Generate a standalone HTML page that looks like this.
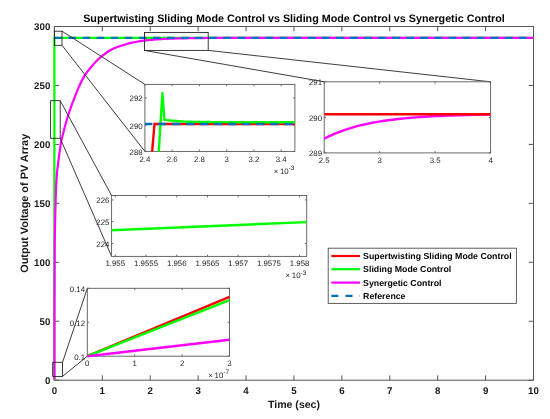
<!DOCTYPE html>
<html lang="en"><head><meta charset="utf-8"><title>Supertwisting Sliding Mode Control vs Sliding Mode Control vs Synergetic Control</title>
<style>html,body{margin:0;padding:0;background:#fff;}svg{display:block;text-rendering:geometricPrecision;}</style></head>
<body>
<svg width="550" height="419" viewBox="0 0 550 419" font-family="'Liberation Sans', Arial, Helvetica, sans-serif">
<rect x="0" y="0" width="550" height="419" fill="#ffffff"/>
<rect x="54.4" y="26.5" width="479.10" height="353.70" fill="none" stroke="#555555" stroke-width="1.0"/>
<path d="M54.40,380.2 v-4.8 M54.40,26.5 v4.8 M102.31,380.2 v-4.8 M102.31,26.5 v4.8 M150.22,380.2 v-4.8 M150.22,26.5 v4.8 M198.13,380.2 v-4.8 M198.13,26.5 v4.8 M246.04,380.2 v-4.8 M246.04,26.5 v4.8 M293.95,380.2 v-4.8 M293.95,26.5 v4.8 M341.86,380.2 v-4.8 M341.86,26.5 v4.8 M389.77,380.2 v-4.8 M389.77,26.5 v4.8 M437.68,380.2 v-4.8 M437.68,26.5 v4.8 M485.59,380.2 v-4.8 M485.59,26.5 v4.8 M533.50,380.2 v-4.8 M533.50,26.5 v4.8 M54.4,380.20 h4.8 M533.5,380.20 h-4.8 M54.4,321.25 h4.8 M533.5,321.25 h-4.8 M54.4,262.30 h4.8 M533.5,262.30 h-4.8 M54.4,203.35 h4.8 M533.5,203.35 h-4.8 M54.4,144.40 h4.8 M533.5,144.40 h-4.8 M54.4,85.45 h4.8 M533.5,85.45 h-4.8 M54.4,26.50 h4.8 M533.5,26.50 h-4.8 " fill="none" stroke="#555555" stroke-width="1.0"/>
<path d="M54.40,380.20 L54.40,37.85 L533.50,37.85" fill="none" stroke="#00ff00" stroke-width="2.2" stroke-linejoin="miter"/>
<path d="M54.40,379.80 C54.41,366.50 54.40,322.63 54.45,300.00 C54.50,277.37 54.51,260.43 54.70,244.00 C54.89,227.57 55.22,213.25 55.60,201.40 C55.98,189.55 56.15,182.42 57.00,172.90 C57.85,163.38 59.92,149.90 60.70,144.30 C61.48,138.70 60.50,144.02 61.70,139.30 C62.90,134.58 65.25,124.23 67.90,116.00 C70.55,107.77 74.77,96.72 77.60,89.90 C80.43,83.08 82.23,79.38 84.90,75.10 C87.57,70.82 90.93,67.23 93.60,64.20 C96.27,61.17 97.75,59.45 100.90,56.90 C104.05,54.35 107.65,51.20 112.50,48.90 C117.35,46.60 126.42,44.21 130.00,43.10 C133.58,41.99 132.67,42.50 134.00,42.24 C135.33,41.97 136.67,41.74 138.00,41.52 C139.33,41.30 140.67,41.10 142.00,40.91 C143.33,40.73 144.67,40.56 146.00,40.41 C147.33,40.26 148.67,40.12 150.00,39.99 C151.33,39.86 152.67,39.75 154.00,39.64 C155.33,39.53 156.67,39.43 158.00,39.34 C159.33,39.25 160.67,39.17 162.00,39.10 C163.33,39.02 164.67,38.96 166.00,38.89 C167.33,38.83 168.67,38.77 170.00,38.72 C171.33,38.67 172.67,38.62 174.00,38.58 C175.33,38.53 176.67,38.50 178.00,38.46 C179.33,38.42 180.67,38.39 182.00,38.36 C183.33,38.33 184.67,38.30 186.00,38.28 C187.33,38.25 188.67,38.23 190.00,38.21 C191.33,38.18 192.67,38.16 194.00,38.15 C195.33,38.13 196.67,38.11 198.00,38.10 C199.33,38.08 200.67,38.07 202.00,38.06 C203.33,38.04 204.67,38.03 206.00,38.02 C207.33,38.01 208.67,38.00 210.00,37.99 C211.33,37.99 212.67,37.98 214.00,37.97 C215.33,37.96 216.67,37.96 218.00,37.95 C219.33,37.95 220.67,37.94 222.00,37.93 C223.33,37.93 224.67,37.92 226.00,37.92 C227.33,37.92 228.67,37.91 230.00,37.91 C231.33,37.91 232.67,37.90 234.00,37.90 C235.33,37.90 236.67,37.89 238.00,37.89 C239.33,37.89 240.67,37.89 242.00,37.88 C243.33,37.88 244.67,37.88 246.00,37.88 C247.33,37.88 248.67,37.88 250.00,37.87 C251.33,37.87 252.67,37.87 254.00,37.87 C255.33,37.87 256.67,37.87 258.00,37.87 C259.33,37.87 260.67,37.86 262.00,37.86 C263.33,37.86 264.67,37.86 266.00,37.86 C267.33,37.86 268.67,37.86 270.00,37.86 C271.33,37.86 272.67,37.86 274.00,37.86 C275.33,37.86 276.67,37.86 278.00,37.86 C279.33,37.86 280.67,37.86 282.00,37.86 C283.33,37.86 284.67,37.86 286.00,37.85 C287.33,37.85 288.67,37.85 290.00,37.85 C291.33,37.85 292.67,37.85 294.00,37.85 C295.33,37.85 296.67,37.85 298.00,37.85 C299.33,37.85 300.67,37.85 302.00,37.85 C303.33,37.85 304.67,37.85 306.00,37.85 C307.33,37.85 308.67,37.85 310.00,37.85 C311.33,37.85 312.67,37.85 314.00,37.85 C315.33,37.85 316.67,37.85 318.00,37.85 C319.33,37.85 320.67,37.85 322.00,37.85 C323.33,37.85 324.67,37.85 326.00,37.85 C327.33,37.85 328.67,37.85 330.00,37.85 C331.33,37.85 332.67,37.85 334.00,37.85 C335.33,37.85 336.67,37.85 338.00,37.85 C339.33,37.85 340.67,37.85 342.00,37.85 C343.33,37.85 344.67,37.85 346.00,37.85 C347.33,37.85 348.67,37.85 350.00,37.85 C351.33,37.85 352.67,37.85 354.00,37.85 C355.33,37.85 356.67,37.85 358.00,37.85 C359.33,37.85 360.67,37.85 362.00,37.85 C363.33,37.85 364.67,37.85 366.00,37.85 C367.33,37.85 368.67,37.85 370.00,37.85 C371.33,37.85 372.67,37.85 374.00,37.85 C375.33,37.85 376.67,37.85 378.00,37.85 C379.33,37.85 380.67,37.85 382.00,37.85 C383.33,37.85 384.67,37.85 386.00,37.85 C387.33,37.85 388.67,37.85 390.00,37.85 C391.33,37.85 392.67,37.85 394.00,37.85 C395.33,37.85 396.67,37.85 398.00,37.85 C399.33,37.85 400.67,37.85 402.00,37.85 C403.33,37.85 404.67,37.85 406.00,37.85 C407.33,37.85 408.67,37.85 410.00,37.85 C411.33,37.85 412.67,37.85 414.00,37.85 C415.33,37.85 416.67,37.85 418.00,37.85 C419.33,37.85 420.67,37.85 422.00,37.85 C423.33,37.85 424.67,37.85 426.00,37.85 C427.33,37.85 428.67,37.85 430.00,37.85 C431.33,37.85 432.67,37.85 434.00,37.85 C435.33,37.85 436.67,37.85 438.00,37.85 C439.33,37.85 440.67,37.85 442.00,37.85 C443.33,37.85 444.67,37.85 446.00,37.85 C447.33,37.85 448.67,37.85 450.00,37.85 C451.33,37.85 452.67,37.85 454.00,37.85 C455.33,37.85 456.67,37.85 458.00,37.85 C459.33,37.85 460.67,37.85 462.00,37.85 C463.33,37.85 464.67,37.85 466.00,37.85 C467.33,37.85 468.67,37.85 470.00,37.85 C471.33,37.85 472.67,37.85 474.00,37.85 C475.33,37.85 476.67,37.85 478.00,37.85 C479.33,37.85 480.67,37.85 482.00,37.85 C483.33,37.85 484.67,37.85 486.00,37.85 C487.33,37.85 488.67,37.85 490.00,37.85 C491.33,37.85 492.67,37.85 494.00,37.85 C495.33,37.85 496.67,37.85 498.00,37.85 C499.33,37.85 500.67,37.85 502.00,37.85 C503.33,37.85 504.67,37.85 506.00,37.85 C507.33,37.85 508.67,37.85 510.00,37.85 C511.33,37.85 512.67,37.85 514.00,37.85 C515.33,37.85 516.67,37.85 518.00,37.85 C519.33,37.85 520.67,37.85 522.00,37.85 C523.33,37.85 524.67,37.85 526.00,37.85 C527.33,37.85 528.75,37.85 530.00,37.85 C531.25,37.85 532.92,37.85 533.50,37.85" fill="none" stroke="#ff00ff" stroke-width="2.2" stroke-linejoin="round"/>
<path d="M54.40,37.85 L533.50,37.85" fill="none" stroke="#0072bd" stroke-width="2.2" stroke-dasharray="7.6 6.48"/>
<g font-size="9.72" font-weight="bold" fill="#1a1a1a">
<text x="54.40" y="394.2" text-anchor="middle">0</text>
<text x="102.31" y="394.2" text-anchor="middle">1</text>
<text x="150.22" y="394.2" text-anchor="middle">2</text>
<text x="198.13" y="394.2" text-anchor="middle">3</text>
<text x="246.04" y="394.2" text-anchor="middle">4</text>
<text x="293.95" y="394.2" text-anchor="middle">5</text>
<text x="341.86" y="394.2" text-anchor="middle">6</text>
<text x="389.77" y="394.2" text-anchor="middle">7</text>
<text x="437.68" y="394.2" text-anchor="middle">8</text>
<text x="485.59" y="394.2" text-anchor="middle">9</text>
<text x="533.50" y="394.2" text-anchor="middle">10</text>
<text x="50.3" y="383.50" text-anchor="end">0</text>
<text x="50.3" y="324.55" text-anchor="end">50</text>
<text x="50.3" y="265.60" text-anchor="end">100</text>
<text x="50.3" y="206.65" text-anchor="end">150</text>
<text x="50.3" y="147.70" text-anchor="end">200</text>
<text x="50.3" y="88.75" text-anchor="end">250</text>
<text x="50.3" y="29.80" text-anchor="end">300</text>
</g>
<text x="294.0" y="21.5" font-size="10.72" font-weight="bold" fill="#000" text-anchor="middle" textLength="421.6" lengthAdjust="spacingAndGlyphs">Supertwisting Sliding Mode Control vs Sliding Mode Control vs Synergetic Control</text>
<text x="294" y="408.4" font-size="10.6" font-weight="bold" fill="#1a1a1a" text-anchor="middle" textLength="52" lengthAdjust="spacingAndGlyphs">Time (sec)</text>
<text transform="translate(28.3,203.3) rotate(-90)" font-size="10.75" font-weight="bold" fill="#1a1a1a" text-anchor="middle" textLength="139" lengthAdjust="spacingAndGlyphs">Output Voltage of PV Array</text>
<rect x="54.4" y="31.2" width="7.60" height="14.10" fill="none" stroke="#1a1a1a" stroke-width="0.85"/>
<path d="M62.0,31.2 L144.9,84.4" fill="none" stroke="#1a1a1a" stroke-width="0.85"/>
<path d="M62.0,45.3 L144.9,151.4" fill="none" stroke="#1a1a1a" stroke-width="0.85"/>
<rect x="144.5" y="32.4" width="63.70" height="18.00" fill="none" stroke="#1a1a1a" stroke-width="0.85"/>
<path d="M144.5,50.4 L324.2,81.8" fill="none" stroke="#1a1a1a" stroke-width="0.85"/>
<path d="M208.2,50.4 L490.6,81.8" fill="none" stroke="#1a1a1a" stroke-width="0.85"/>
<rect x="50.6" y="100.7" width="9.60" height="37.60" fill="none" stroke="#1a1a1a" stroke-width="0.85"/>
<path d="M60.2,100.7 L111.6,195.5" fill="none" stroke="#1a1a1a" stroke-width="0.85"/>
<path d="M60.2,138.3 L111.6,256.4" fill="none" stroke="#1a1a1a" stroke-width="0.85"/>
<rect x="52.7" y="362.3" width="9.80" height="14.10" fill="none" stroke="#1a1a1a" stroke-width="0.85"/>
<path d="M62.5,362.3 L87.3,288.3" fill="none" stroke="#1a1a1a" stroke-width="0.85"/>
<path d="M62.5,376.4 L87.3,356.2" fill="none" stroke="#1a1a1a" stroke-width="0.85"/>
<rect x="144.9" y="84.4" width="150.00" height="67.00" fill="#ffffff" stroke="none"/>
<rect x="144.9" y="84.4" width="150.00" height="67.00" fill="none" stroke="#5a5a5a" stroke-width="0.9"/>
<path d="M144.90,151.4 v-1.8 M144.90,84.4 v1.8 M172.15,151.4 v-1.8 M172.15,84.4 v1.8 M199.40,151.4 v-1.8 M199.40,84.4 v1.8 M226.65,151.4 v-1.8 M226.65,84.4 v1.8 M253.90,151.4 v-1.8 M253.90,84.4 v1.8 M281.15,151.4 v-1.8 M281.15,84.4 v1.8 M144.9,151.50 h1.8 M294.9,151.50 h-1.8 M144.9,125.10 h1.8 M294.9,125.10 h-1.8 M144.9,97.90 h1.8 M294.9,97.90 h-1.8 " fill="none" stroke="#5a5a5a" stroke-width="0.9"/>
<g font-size="7.85" fill="#262626">
<text x="144.90" y="162.10" text-anchor="middle">2.4</text>
<text x="172.15" y="162.10" text-anchor="middle">2.6</text>
<text x="199.40" y="162.10" text-anchor="middle">2.8</text>
<text x="226.65" y="162.10" text-anchor="middle">3</text>
<text x="253.90" y="162.10" text-anchor="middle">3.2</text>
<text x="281.15" y="162.10" text-anchor="middle">3.4</text>
<text x="142.70" y="155.00" text-anchor="end">288</text>
<text x="142.70" y="128.60" text-anchor="end">290</text>
<text x="142.70" y="101.40" text-anchor="end">292</text>
<text x="294.40" y="173.80" text-anchor="end">×<tspan dx="1.7">10</tspan><tspan dy="-3.4" font-size="6.4">-3</tspan></text>
</g>
<clipPath id="c1"><rect x="144.9" y="84.4" width="150.00" height="67.00"/></clipPath>
<g clip-path="url(#c1)">
<path d="M151.9,154.4 L154.5,123.95 L294.9,123.95" fill="none" stroke="#ff0000" stroke-width="2.4" stroke-linejoin="miter"/>
<path d="M158.6,154.4 L162.4,93.0 L164.4,119.7 L167.20,120.13 L170.20,120.50 L173.20,120.81 L176.20,121.06 L179.20,121.27 L182.20,121.44 L185.20,121.58 L188.20,121.69 L191.20,121.78 L194.20,121.86 L197.20,121.92 L200.20,121.97 L203.20,122.01 L206.20,122.05 L209.20,122.07 L212.20,122.10 L215.20,122.12 L218.20,122.13 L221.20,122.14 L224.20,122.15 L227.20,122.16 L230.20,122.17 L233.20,122.17 L236.20,122.18 L239.20,122.18 L242.20,122.19 L245.20,122.19 L248.20,122.19 L251.20,122.19 L254.20,122.19 L257.20,122.19 L260.20,122.20 L263.20,122.20 L266.20,122.20 L269.20,122.20 L272.20,122.20 L275.20,122.20 L278.20,122.20 L281.20,122.20 L284.20,122.20 L287.20,122.20 L290.20,122.20 L293.20,122.20 L294.90,122.20" fill="none" stroke="#00ff00" stroke-width="2.4" stroke-linejoin="round"/>
<path d="M144.9,123.95 L294.9,123.95" fill="none" stroke="#0072bd" stroke-width="2.4" stroke-dasharray="8.2 5.8" stroke-dashoffset="0.7"/>
</g>
<rect x="324.2" y="81.8" width="166.40" height="71.10" fill="#ffffff" stroke="none"/>
<rect x="324.2" y="81.8" width="166.40" height="71.10" fill="none" stroke="#5a5a5a" stroke-width="0.9"/>
<path d="M324.20,152.9 v-1.8 M324.20,81.8 v1.8 M379.67,152.9 v-1.8 M379.67,81.8 v1.8 M435.13,152.9 v-1.8 M435.13,81.8 v1.8 M490.60,152.9 v-1.8 M490.60,81.8 v1.8 M324.2,152.90 h1.8 M490.6,152.90 h-1.8 M324.2,117.40 h1.8 M490.6,117.40 h-1.8 M324.2,81.80 h1.8 M490.6,81.80 h-1.8 " fill="none" stroke="#5a5a5a" stroke-width="0.9"/>
<g font-size="7.85" fill="#262626">
<text x="324.20" y="163.30" text-anchor="middle">2.5</text>
<text x="379.67" y="163.30" text-anchor="middle">3</text>
<text x="435.13" y="163.30" text-anchor="middle">3.5</text>
<text x="490.60" y="163.30" text-anchor="middle">4</text>
<text x="322.00" y="156.40" text-anchor="end">289</text>
<text x="322.00" y="120.90" text-anchor="end">290</text>
<text x="322.00" y="85.30" text-anchor="end">291</text>
</g>
<clipPath id="c2"><rect x="324.2" y="81.8" width="166.40" height="71.10"/></clipPath>
<g clip-path="url(#c2)">
<path d="M324.20,138.70 L328.20,136.68 L332.20,134.82 L336.20,133.11 L340.20,131.54 L344.20,130.10 L348.20,128.77 L352.20,127.55 L356.20,126.43 L360.20,125.41 L364.20,124.46 L368.20,123.60 L372.20,122.80 L376.20,122.07 L380.20,121.40 L384.20,120.78 L388.20,120.21 L392.20,119.69 L396.20,119.21 L400.20,118.77 L404.20,118.37 L408.20,118.00 L412.20,117.65 L416.20,117.34 L420.20,117.05 L424.20,116.79 L428.20,116.55 L432.20,116.32 L436.20,116.12 L440.20,115.93 L444.20,115.76 L448.20,115.60 L452.20,115.45 L456.20,115.32 L460.20,115.19 L464.20,115.08 L468.20,114.98 L472.20,114.88 L476.20,114.79 L480.20,114.71 L484.20,114.64 L488.20,114.57 L490.60,114.53" fill="none" stroke="#ff00ff" stroke-width="2.4"/>
<path d="M324.2,114.2 L490.6,114.2" fill="none" stroke="#ff0000" stroke-width="2.4"/>
</g>
<rect x="111.6" y="195.5" width="195.10" height="60.90" fill="#ffffff" stroke="none"/>
<rect x="111.6" y="195.5" width="195.10" height="60.90" fill="none" stroke="#5a5a5a" stroke-width="0.9"/>
<path d="M115.30,256.4 v-1.8 M115.30,195.5 v1.8 M146.02,256.4 v-1.8 M146.02,195.5 v1.8 M176.74,256.4 v-1.8 M176.74,195.5 v1.8 M207.46,256.4 v-1.8 M207.46,195.5 v1.8 M238.18,256.4 v-1.8 M238.18,195.5 v1.8 M268.90,256.4 v-1.8 M268.90,195.5 v1.8 M299.62,256.4 v-1.8 M299.62,195.5 v1.8 M111.6,243.50 h1.8 M306.7,243.50 h-1.8 M111.6,221.70 h1.8 M306.7,221.70 h-1.8 M111.6,199.90 h1.8 M306.7,199.90 h-1.8 " fill="none" stroke="#5a5a5a" stroke-width="0.9"/>
<g font-size="7.85" fill="#262626">
<text x="115.30" y="266.40" text-anchor="middle">1.955</text>
<text x="146.02" y="266.40" text-anchor="middle">1.9555</text>
<text x="176.74" y="266.40" text-anchor="middle">1.956</text>
<text x="207.46" y="266.40" text-anchor="middle">1.9565</text>
<text x="238.18" y="266.40" text-anchor="middle">1.957</text>
<text x="268.90" y="266.40" text-anchor="middle">1.9575</text>
<text x="299.62" y="266.40" text-anchor="middle">1.958</text>
<text x="109.40" y="247.00" text-anchor="end">224</text>
<text x="109.40" y="225.20" text-anchor="end">225</text>
<text x="109.40" y="203.40" text-anchor="end">226</text>
<text x="306.20" y="278.00" text-anchor="end">×<tspan dx="1.7">10</tspan><tspan dy="-3.4" font-size="6.4">-3</tspan></text>
</g>
<path d="M111.6,230.2 L306.7,222.1" fill="none" stroke="#00ff00" stroke-width="2.4"/>
<rect x="87.3" y="288.3" width="142.20" height="67.90" fill="#ffffff" stroke="none"/>
<rect x="87.3" y="288.3" width="142.20" height="67.90" fill="none" stroke="#5a5a5a" stroke-width="0.9"/>
<path d="M87.30,356.2 v-1.8 M87.30,288.3 v1.8 M134.70,356.2 v-1.8 M134.70,288.3 v1.8 M182.10,356.2 v-1.8 M182.10,288.3 v1.8 M229.50,356.2 v-1.8 M229.50,288.3 v1.8 M87.3,356.20 h1.8 M229.5,356.20 h-1.8 M87.3,322.25 h1.8 M229.5,322.25 h-1.8 M87.3,288.30 h1.8 M229.5,288.30 h-1.8 " fill="none" stroke="#5a5a5a" stroke-width="0.9"/>
<g font-size="7.85" fill="#262626">
<text x="87.30" y="366.00" text-anchor="middle">0</text>
<text x="134.70" y="366.00" text-anchor="middle">1</text>
<text x="182.10" y="366.00" text-anchor="middle">2</text>
<text x="229.50" y="366.00" text-anchor="middle">3</text>
<text x="85.10" y="359.70" text-anchor="end">0.1</text>
<text x="85.10" y="325.75" text-anchor="end">0.12</text>
<text x="85.10" y="291.80" text-anchor="end">0.14</text>
<text x="229.00" y="377.70" text-anchor="end">×<tspan dx="1.7">10</tspan><tspan dy="-3.4" font-size="6.4">-7</tspan></text>
</g>
<path d="M87.3,356.2 L229.5,296.9" fill="none" stroke="#ff0000" stroke-width="2.4"/>
<path d="M87.3,356.2 L229.5,300.2" fill="none" stroke="#00ff00" stroke-width="2.4"/>
<path d="M87.3,356.2 L229.5,339.8" fill="none" stroke="#ff00ff" stroke-width="2.4"/>
<rect x="328.2" y="248.2" width="188.20" height="55.20" fill="#ffffff" stroke="#4d4d4d" stroke-width="0.9"/>
<path d="M331.3,256.0 L360,256.0" fill="none" stroke="#ff0000" stroke-width="2.2"/>
<text x="363.1" y="259.20" font-size="8.78" font-weight="bold" fill="#000" textLength="148.5" lengthAdjust="spacingAndGlyphs">Supertwisting Sliding Mode Control</text>
<path d="M331.3,269.2 L360,269.2" fill="none" stroke="#00ff00" stroke-width="2.2"/>
<text x="363.1" y="272.40" font-size="8.78" font-weight="bold" fill="#000">Sliding Mode Control</text>
<path d="M331.3,282.6 L360,282.6" fill="none" stroke="#ff00ff" stroke-width="2.2"/>
<text x="363.1" y="285.80" font-size="8.78" font-weight="bold" fill="#000">Synergetic Control</text>
<path d="M331.3,295.9 L360,295.9" fill="none" stroke="#0072bd" stroke-width="2.2" stroke-dasharray="7 7.2"/>
<text x="363.1" y="299.10" font-size="8.78" font-weight="bold" fill="#000">Reference</text>
</svg>
</body></html>
